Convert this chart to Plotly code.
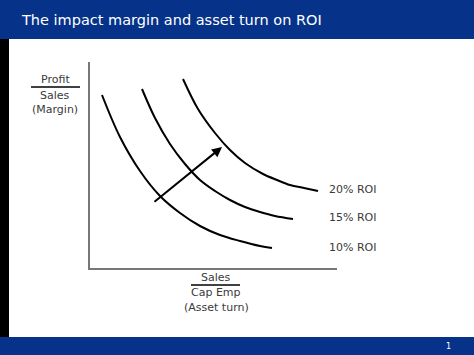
import plotly.graph_objects as go

W, H = 474, 355
L, R, T, B = 90, 337, 62, 268  # plot area in pixels

# Curves (x: asset turn units, y: margin units)
roi10_x = [12, 30, 50, 70, 90, 110, 130, 150, 170, 182]
roi10_y = [173, 131, 97, 72, 55, 42, 33, 27, 22, 20]
roi15_x = [52, 65, 80, 95, 110, 125, 140, 155, 170, 185, 203]
roi15_y = [179, 150, 124, 104, 88, 77, 68, 61, 56, 52, 49]
roi20_x = [93, 108, 125, 140, 155, 173, 187, 200, 214, 228]
roi20_y = [189, 159, 135, 118, 105, 94, 88, 83, 80, 77]
curve_labels = ["10% ROI", "15% ROI", "20% ROI"]
label_y = [21, 51, 79]
arrow_from = (63, 65)
arrow_to = (132, 121)

BLUE = "#063389"
TXT = "#3a3a3a"
FONT = "DejaVu Sans"

def px(x):
    return (x - L) / (R - L)

def py(y):
    return (B - y) / (B - T)

fig = go.Figure()
for xs, ys in [(roi10_x, roi10_y), (roi15_x, roi15_y), (roi20_x, roi20_y)]:
    fig.add_trace(go.Scatter(x=xs, y=ys, mode="lines",
                             line=dict(color="black", width=2, shape="spline", smoothing=1.0),
                             hoverinfo="skip", showlegend=False))

shapes = [
    dict(type="rect", xref="paper", yref="paper", x0=px(0), x1=px(W), y0=py(0), y1=py(39),
         fillcolor=BLUE, line=dict(width=0), layer="below"),
    dict(type="rect", xref="paper", yref="paper", x0=px(0), x1=px(W), y0=py(337), y1=py(H),
         fillcolor=BLUE, line=dict(width=0), layer="below"),
    dict(type="rect", xref="paper", yref="paper", x0=px(0), x1=px(9), y0=py(39), y1=py(337),
         fillcolor="black", line=dict(width=0), layer="below"),
    dict(type="line", xref="paper", yref="paper", x0=px(31), x1=px(80), y0=py(87), y1=py(87),
         line=dict(color="black", width=1.5)),
    dict(type="line", xref="paper", yref="paper", x0=px(191), x1=px(240), y0=py(285), y1=py(285),
         line=dict(color="black", width=1.5)),
]

def txt(s, x, y, size=11, color=TXT, xanchor="center"):
    return dict(text=s, xref="paper", yref="paper", x=px(x), y=py(y),
                xanchor=xanchor, yanchor="middle", showarrow=False,
                font=dict(family=FONT, size=size, color=color))

ann = [
    txt("The impact margin and asset turn on ROI", 19, 20, size=14.5, color="white", xanchor="left"),
    txt("1", 448, 346, size=8, color="white"),
    txt("Profit", 55, 79),
    txt("Sales", 55, 95),
    txt("(Margin)", 55, 109),
    txt("Sales", 216, 277),
    txt("Cap Emp", 216, 292),
    txt("(Asset turn)", 216, 307),
    dict(x=arrow_to[0], y=arrow_to[1], ax=arrow_from[0], ay=arrow_from[1],
         xref="x", yref="y", axref="x", ayref="y", text="", showarrow=True,
         arrowhead=2, arrowsize=1, arrowwidth=2, arrowcolor="black"),
]
for lab, yy in zip(curve_labels, label_y):
    ann.append(dict(text=lab, x=237, y=yy, xref="x", yref="y", xanchor="left",
                    yanchor="middle", showarrow=False,
                    font=dict(family=FONT, size=11, color=TXT)))

fig.update_layout(
    width=W, height=H,
    margin=dict(l=L, r=W - R, t=T, b=H - B, pad=0),
    paper_bgcolor="white", plot_bgcolor="white",
    shapes=shapes, annotations=ann,
    xaxis=dict(range=[0, R - L], showgrid=False, zeroline=False, showticklabels=False,
               ticks="", showline=True, linecolor="#777777", linewidth=2, fixedrange=True),
    yaxis=dict(range=[0, B - T], showgrid=False, zeroline=False, showticklabels=False,
               ticks="", showline=True, linecolor="#777777", linewidth=2, fixedrange=True),
)
fig.write_html("out.html", config=dict(displayModeBar=False))
